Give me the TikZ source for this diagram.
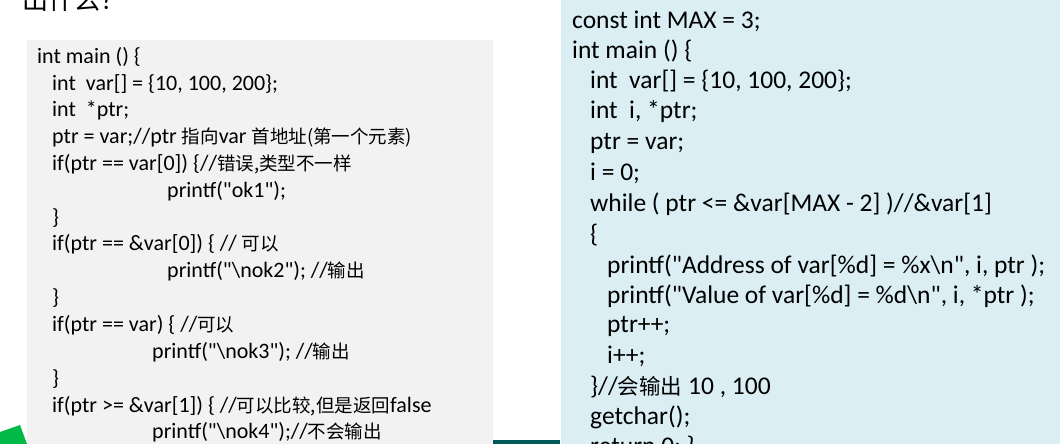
\documentclass[tikz,border=0pt]{standalone}
\usepackage{fontspec}
\setmainfont{Carlito}[Ligatures=TeXOff]
\newfontfamily\cjk{Noto Sans CJK SC}
\newcommand{\zh}[1]{{\cjk\fontsize{18.5}{20}\selectfont #1}}
\newcommand{\zr}[1]{{\cjk\fontsize{21.5}{24}\selectfont #1}}
\newcommand{\bs}{\textbackslash}
\newcommand{\q}{\symbol{34}}
\begin{document}
\begin{tikzpicture}[x=1pt,y=-1pt,
  lt/.style={anchor=west,inner sep=0pt,font=\fontsize{22}{24}\selectfont},
  rt/.style={anchor=west,inner sep=0pt,font=\fontsize{25.5}{28}\selectfont}]
\useasboundingbox (0,0) rectangle (1060,444);
\fill[white] (0,0) rectangle (1060,444);
\clip (0,0) rectangle (1060,444);
\fill[green!45!teal] (0,432) -- (20,425) -- (27,444) -- (0,444) -- cycle;
\fill[teal!70!black] (493,440) rectangle (560,444);
\fill[gray!10] (27,40) rectangle (493,444);
\fill[fill={rgb,255:red,218;green,238;blue,243}] (561,0) rectangle (1060,444);
\node[anchor=base west,inner sep=0pt,font=\cjk\fontsize{26}{28}\selectfont] (title) at (22,10) {出什么？};
% left
\node[lt] (a1) at (37,57) {int main () \{};
\node[lt] (a2) at (52,84) {int\ \ var[] = \{10, 100, 200\};};
\node[lt] (a3) at (52,110) {int\ \ *ptr;};
\node[lt] (a4) at (52,137) {ptr = var;//ptr \zh{指向}var \zh{首地址(第一个元素)}};
\node[lt] (a5) at (52,164) {if(ptr == var[0]) \{//\zh{错误,类型不一样}};
\node[lt] (a6) at (167,191) {printf(\q ok1\q);};
\node[lt] (a7) at (52,218) {\}};
\node[lt] (a8) at (52,244) {if(ptr == \&var[0]) \{ // \zh{可以}};
\node[lt] (a9) at (167,271) {printf(\q\bs nok2\q); //\zh{输出}};
\node[lt] (a10) at (52,298) {\}};
\node[lt] (a11) at (52,325) {if(ptr == var) \{ //\zh{可以}};
\node[lt] (a12) at (152,352) {printf(\q\bs nok3\q); //\zh{输出}};
\node[lt] (a13) at (52,379) {\}};
\node[lt] (a14) at (52,406) {if(ptr >= \&var[1]) \{ //\zh{可以比较,但是返回}false};
\node[lt] (a15) at (152,432) {printf(\q\bs nok4\q);//\zh{不会输出}};
% right
\node[rt] (b1) at (572,21) {const int MAX = 3;};
\node[rt] (b2) at (572,51) {int main () \{};
\node[rt] (b3) at (590,81) {int\ \ var[] = \{10, 100, 200\};};
\node[rt] (b4) at (590,112) {int\ \ i, *ptr;};
\node[rt] (b5) at (590,143) {ptr = var;};
\node[rt] (b6) at (590,173) {i = 0;};
\node[rt] (b7) at (590,204) {while ( ptr <= \&var[MAX - 2] )//\&var[1]};
\node[rt] (b8) at (590,235) {\{};
\node[rt] (b9) at (607,266) {printf(\q Address of var[\%d] = \%x\bs n\q, i, ptr );};
\node[rt] (b10) at (607,296) {printf(\q Value of var[\%d] = \%d\bs n\q, i, *ptr );};
\node[rt] (b11) at (607,326) {ptr++;};
\node[rt] (b12) at (607,356) {i++;};
\node[rt] (b13) at (590,387) {\}//\zr{会输出} 10 , 100};
\node[rt] (b14) at (590,417) {getchar();};
\node[rt] (b15) at (590,447) {return 0; \}};
\end{tikzpicture}
\end{document}
